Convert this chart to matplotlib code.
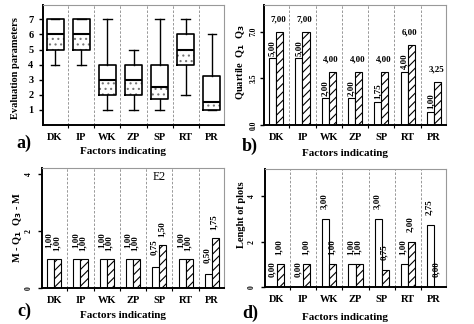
import matplotlib
matplotlib.use("Agg")
import matplotlib.pyplot as plt
import numpy as np

plt.rcParams['font.family'] = ['Liberation Serif', 'DejaVu Serif']
plt.rcParams['hatch.linewidth'] = 0.8

categories = ["DK", "IP", "WK", "ZP", "SP", "RT", "PR"]

# panel a: box plot statistics
box_min = [4, 4, 1, 1, 1, 2, 1]
box_q1 = [5, 5, 2, 2, 1.75, 4, 1]
box_med = [6, 6, 3, 3, 2.5, 5, 1.5]
box_q3 = [7, 7, 4, 4, 4, 6, 3.25]
box_max = [7, 7, 7, 5, 7, 7, 6]

# panel b: quartiles
b_q1 = [5.00, 5.00, 2.00, 2.00, 1.75, 4.00, 1.00]
b_q3 = [7.00, 7.00, 4.00, 4.00, 4.00, 6.00, 3.25]

# panel c: M-Q1, Q3-M
c_white = [1.00, 1.00, 1.00, 1.00, 0.75, 1.00, 0.50]
c_hatch = [1.00, 1.00, 1.00, 1.00, 1.50, 1.00, 1.75]

# panel d: length of whiskers
d_white = [0.00, 0.00, 3.00, 1.00, 3.00, 1.00, 2.75]
d_hatch = [1.00, 1.00, 1.00, 1.00, 0.75, 2.00, 0.00]

W, H = 474, 324
fig = plt.figure(figsize=(W / 100, H / 100), dpi=100)


def px_axes(l, t, r, b):
    return fig.add_axes([l / W, 1 - b / H, (r - l) / W, (b - t) / H])


def fmt(v):
    return f"{v:.2f}".replace(".", ",")


def style_axes(ax, n):
    x = np.arange(n)
    ax.set_xlim(-0.46, n - 1 + 0.46)
    for s in ("top", "right"):
        ax.spines[s].set_color("#999999")
        ax.spines[s].set_linewidth(0.8)
    for s in ("left", "bottom"):
        ax.spines[s].set_color("black")
        ax.spines[s].set_linewidth(1.4)
    for xb in x[:-1] + 0.5:
        ax.axvline(xb, color="#888888", lw=0.6, ls=(0, (3, 2)), zorder=0)
    ax.set_xticks(x)
    ax.set_xticklabels(categories, fontsize=7.5, fontweight="bold")
    ax.set_xticks(x[:-1] + 0.5, minor=True)
    ax.tick_params(axis="x", which="major", length=0, pad=6)
    ax.tick_params(axis="x", which="minor", length=2.5, width=0.8, direction="out")
    ax.tick_params(axis="y", length=3, width=1.0, direction="out")


x = np.arange(len(categories))

# ---------- panel a ----------
axa = px_axes(43, 5, 224, 125)
stats = []
for i in range(len(categories)):
    stats.append(dict(whislo=box_min[i], q1=box_q1[i], med=box_med[i],
                      q3=box_q3[i], whishi=box_max[i], fliers=[]))
axa.bxp(stats, positions=x, widths=0.65, capwidths=0.33, showfliers=False,
        boxprops=dict(color="black", lw=1.2),
        whiskerprops=dict(color="black", lw=1.0),
        capprops=dict(color="black", lw=1.0),
        medianprops=dict(color="black", lw=1.5))
axa.bar(x, np.array(box_med) - np.array(box_q1), bottom=box_q1, width=0.65,
        fill=False, hatch="...", edgecolor="#777777", linewidth=0, zorder=1)
style_axes(axa, len(categories))
axa.set_ylim(0, 7.95)
axa.set_yticks(range(1, 8))
axa.set_yticklabels([str(v) for v in range(1, 8)], fontsize=7.5, fontweight="bold")
axa.tick_params(axis="y", pad=4)

# ---------- panel b ----------
bw = 0.27
axb = px_axes(264, 5, 446, 125)
axb.bar(x - bw / 2, b_q1, width=bw, color="white", edgecolor="black", lw=0.8)
axb.bar(x + bw / 2, b_q3, width=bw, color="white", edgecolor="black", lw=0.8,
        hatch="////")
for i in range(len(categories)):
    axb.annotate(fmt(b_q1[i]), (x[i] - bw / 2, b_q1[i]), xytext=(0, 2),
                 textcoords="offset points", rotation=90, ha="center",
                 va="bottom", fontsize=6.5, fontweight="bold")
    axb.annotate(fmt(b_q3[i]), (x[i] + bw / 3, b_q3[i]), xytext=(0, 6),
                 textcoords="offset points", ha="center", va="bottom",
                 fontsize=6.5, fontweight="bold")
style_axes(axb, len(categories))
axb.set_ylim(0, 9.0)
axb.set_yticks([0, 3.5, 7.0])
axb.set_yticklabels(["0.0", "3.5", "7.0"], fontsize=5.5, fontweight="bold",
                    rotation=90, va="center")
axb.tick_params(axis="y", pad=1.5)

# ---------- panel c ----------
axc = px_axes(42, 168, 224, 288)
axc.bar(x - bw / 2, c_white, width=bw, color="white", edgecolor="black", lw=0.8)
axc.bar(x + bw / 2, c_hatch, width=bw, color="white", edgecolor="black", lw=0.8,
        hatch="////")
for i in range(len(categories)):
    axc.annotate(fmt(c_white[i]), (x[i] - bw / 2, c_white[i]), xytext=(-1, 8),
                 textcoords="offset points", rotation=90, ha="center",
                 va="bottom", fontsize=6.5, fontweight="bold")
    axc.annotate(fmt(c_hatch[i]), (x[i] + bw / 2, c_hatch[i]), xytext=(-1, 6),
                 textcoords="offset points", rotation=90, ha="center",
                 va="bottom", fontsize=6.5, fontweight="bold")
style_axes(axc, len(categories))
axc.set_ylim(0, 4.2)
axc.set_yticks([0, 2, 4])
axc.set_yticklabels(["0", "2", "4"], fontsize=5.5, fontweight="bold",
                    rotation=90, va="center")
axc.text(4.0, 3.9, "E2", fontsize=8.5, ha="center", va="center")

# ---------- panel d ----------
axd = px_axes(265, 169, 446, 287)
axd.bar(x - bw / 2, d_white, width=bw, color="white", edgecolor="black", lw=0.8)
axd.bar(x + bw / 2, d_hatch, width=bw, color="white", edgecolor="black", lw=0.8,
        hatch="////")
for i in range(len(categories)):
    axd.annotate(fmt(d_white[i]), (x[i] - bw / 2, d_white[i]), xytext=(-1, 7),
                 textcoords="offset points", rotation=90, ha="center",
                 va="bottom", fontsize=6.5, fontweight="bold")
    axd.annotate(fmt(d_hatch[i]), (x[i] + bw / 2, d_hatch[i]), xytext=(-1, 7),
                 textcoords="offset points", rotation=90, ha="center",
                 va="bottom", fontsize=6.5, fontweight="bold")
style_axes(axd, len(categories))
axd.set_ylim(0, 5.2)
axd.set_yticks([0, 2, 4])
axd.set_yticklabels(["0", "2", "4"], fontsize=5.5, fontweight="bold",
                    rotation=90, va="center")

# ---------- figure texts ----------
def ftext(px, py, s, **kw):
    fig.text(px / W, 1 - py / H, s, **kw)

for (px, py) in [(123, 152), (345, 154), (123, 316), (345, 318)]:
    ftext(px, py, "Factors indicating", fontsize=8, fontweight="bold",
          ha="center", va="center")
for (px, py, s) in [(24, 143, "a)"), (250, 146, "b)"), (24, 311, "c)"), (250, 313, "d)")]:
    ftext(px, py, s, fontsize=13, fontweight="bold", ha="center", va="center")

ftext(16, 68, "Evaluation parameters", fontsize=7.5, fontweight="bold",
      rotation=90, ha="center", va="center")
ftext(241, 62, "Quartile  Q$_\\mathbf{1}$  Q$_\\mathbf{3}$", fontsize=7.5,
      fontweight="bold", rotation=90, ha="center", va="center")
ftext(18, 228, "M - Q$_\\mathbf{1}$  Q$_\\mathbf{3}$ - M", fontsize=7.5,
      fontweight="bold", rotation=90, ha="center", va="center")
ftext(241, 215, "Lenght of plots", fontsize=7.5, fontweight="bold",
      rotation=90, ha="center", va="center")

fig.savefig("out.png", dpi=100)
